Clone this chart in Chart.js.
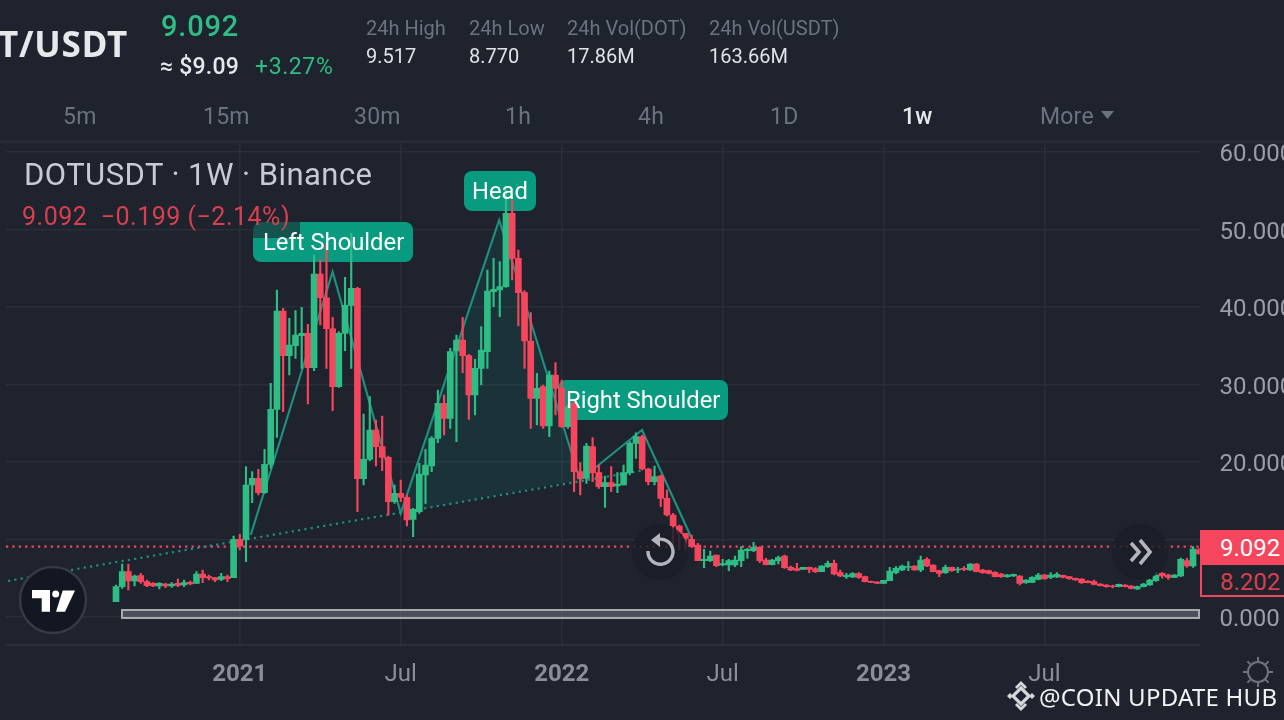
<!DOCTYPE html>
<html lang="en">

<head>
    <meta charset="UTF-8">
    <title>DOTUSDT 1W Binance</title>
    <style>
        html, body { margin: 0; padding: 0; width: 1284px; height: 720px; overflow: hidden; background: #1e232e; }
        #myChart { position: absolute; left: 0; top: 0; }
        .t { position: absolute; white-space: nowrap; line-height: 1; font-family: Roboto, sans-serif; }
        .dim { color: #6b7280; font-size: 20px; }
        .val { color: #dfe2e7; font-size: 20px; top: 46px; }
        .tf { color: #6b7280; font-size: 23px; top: 105px; letter-spacing: 0.2px; }
        .lbl { color: #fff; font-size: 23.8px; }
        .tag { position: absolute; left: 1200px; width: 84px; box-sizing: border-box; }
        .tagtxt { font-size: 24px; left: 1220px; }
    </style>
</head>

<body>
    <canvas id="myChart" width="1284" height="720"></canvas>

    <!-- header -->
    <div class="t" style="left:-2px;top:26px;font-size:35px;font-weight:700;color:#e6e8ec;letter-spacing:0.8px;font-family:'Noto Sans',sans-serif">T/USDT</div>
    <div class="t" style="left:161px;top:12px;font-size:29px;font-weight:500;color:#2ebd85;letter-spacing:0.8px">9.092</div>
    <div class="t" style="left:160px;top:55px;font-size:23px;font-weight:500;color:#e6e8ec;letter-spacing:0.2px">≈ $9.09</div>
    <div class="t" style="left:255px;top:55px;font-size:23px;color:#2ebd85;letter-spacing:0.6px">+3.27%</div>
    <div class="t dim" style="left:366px;top:18px">24h High</div>
    <div class="t dim" style="left:469px;top:18px">24h Low</div>
    <div class="t dim" style="left:567px;top:18px">24h Vol(DOT)</div>
    <div class="t dim" style="left:709px;top:18px">24h Vol(USDT)</div>
    <div class="t val" style="left:366px">9.517</div>
    <div class="t val" style="left:469px">8.770</div>
    <div class="t val" style="left:567px">17.86M</div>
    <div class="t val" style="left:709px">163.66M</div>

    <!-- timeframes -->
    <div class="t tf" style="left:63px">5m</div>
    <div class="t tf" style="left:203px">15m</div>
    <div class="t tf" style="left:354px">30m</div>
    <div class="t tf" style="left:505px">1h</div>
    <div class="t tf" style="left:638px">4h</div>
    <div class="t tf" style="left:770px">1D</div>
    <div class="t tf" style="left:902px;color:#e6e8ec;font-weight:500">1w</div>
    <div class="t tf" style="left:1040px">More</div>
    <div style="position:absolute;left:0;top:140px;width:1284px;height:3px;background:#262b36"></div>

    <!-- legend -->
    <div class="t" style="left:24px;top:159px;font-size:31px;color:#c8cbd5;letter-spacing:0.45px">DOTUSDT · 1W · Binance</div>
    <div class="t" style="left:22px;top:204px;font-size:25px;color:#d8404f;white-space:pre;letter-spacing:0.5px">9.092  −0.199 (−2.14%)</div>

    <!-- pattern labels -->
    <div class="t lbl" style="left:263px;top:231px">Left Shoulder</div>
    <div class="t lbl" style="left:472px;top:180px">Head</div>
    <div class="t lbl" style="left:566px;top:389px">Right Shoulder</div>

    <!-- scrollbar -->
    <div style="position:absolute;left:121px;top:609px;width:1079px;height:10px;box-sizing:border-box;border:2px solid #a9aaae;background:rgba(120,123,134,.5)"></div>

    <!-- price tags -->
    <div class="tag" style="top:530px;height:35px;background:#f6465d"></div>
    <div class="tag" style="top:565px;height:32px;border-left:2px solid #f6465d;border-bottom:2px solid #f6465d;background:#1e232e"></div>
    <div class="t tagtxt" style="top:536px;color:#fff">9.092</div>
    <div class="t tagtxt" style="top:570px;color:#d8404f">8.202</div>

    <svg width="1284" height="720" style="position:absolute;left:0;top:0;pointer-events:none">
        <path d="M1101 111h13l-6.5 8z" fill="#6b7280" />
        <!-- logo -->
        <circle cx="53" cy="600" r="33" fill="#131722" stroke="#363a45" stroke-width="2.5" />
        <path d="M32 590h18v21.7h-8.3v-13.4h-9.7z" fill="#fff" />
        <circle cx="55.7" cy="594" r="3.5" fill="#fff" />
        <path d="M62.7 590.5h12.3l-10 21.2h-9z" fill="#fff" />
        <!-- reset button -->
        <circle cx="660" cy="552" r="28" fill="#191d27" fill-opacity=".82" />
        <path d="M654 541a12.5 12.5 0 1 1-6 10" fill="none" stroke="#b2b5be" stroke-width="3.4" />
        <path d="M660 533v14l-9-7z" fill="#b2b5be" />
        <!-- scroll button -->
        <circle cx="1140" cy="552" r="28" fill="#191d27" fill-opacity=".82" />
        <path d="M1131 543l8 9-8 9M1140 540l10 12-10 12" fill="none" stroke="#b2b5be" stroke-width="3.6" />
        <!-- sun -->
        <g stroke="#6f7480" stroke-width="2" fill="none">
            <circle cx="1258" cy="672" r="10" />
            <path d="M1258 657v4M1258 683v4M1243 672h4M1269 672h4M1247.4 661.4l3 3M1265.6 679.6l3 3M1268.6 661.4l-3 3M1250.4 679.6l-3 3" />
        </g>
        <!-- watermark icon -->
        <g fill="none" stroke="#d5d7dc" stroke-width="3.2">
            <path d="M1021 688l8 8-8 8-8-8z" />
        </g>
        <g fill="#d5d7dc">
            <path d="M1021 681l6 6-2 2-4-4-4 4-2-2z" />
            <path d="M1021 711l6-6-2-2-4 4-4-4-2 2z" />
            <path d="M1007 696l3-3 3 3-3 3zM1029 696l3-3 3 3-3 3z" />
        </g>
    </svg>
    <div class="t" style="left:1039px;top:685px;font-size:24px;color:#f2f2f2;letter-spacing:0.25px;font-family:'Noto Sans',sans-serif">@COIN UPDATE HUB</div>

    <script src="https://cdn.jsdelivr.net/npm/chart.js"></script>
    <script>
        // weekly candles, index 0 is the first week on the chart
        const opens = [
            1.98, 3.91, 5.85, 4.65, 5.33, 4.56, 4.34, 4.00, 4.26, 4.00,
            4.34, 4.13, 4.47, 4.34, 5.55, 5.20, 5.08, 4.86, 5.20, 5.08,
            10.02, 10.02, 17.03, 17.89, 16.04, 19.70, 26.80, 39.48, 33.72, 35.01,
            36.30, 36.60, 32.17, 44.26, 41.20, 37.20, 29.72, 36.60, 40.22, 42.41,
            17.85, 20.34, 24.13, 21.98, 20.60, 14.88, 15.96, 15.44, 12.60, 13.59,
            18.32, 19.48, 23.05, 27.57, 25.63, 34.32, 35.74, 33.72, 28.65, 32.09,
            34.24, 41.98, 42.19, 42.62, 52.09, 46.28, 41.85, 35.61, 28.22, 29.72,
            24.65, 31.23, 29.51, 24.56, 27.57, 18.75, 17.89, 21.98, 18.62, 16.82,
            17.33, 16.90, 17.03, 18.62, 22.41, 23.27, 19.10, 17.46, 18.19, 15.31,
            13.16, 11.74, 10.80, 10.02, 9.29, 7.27, 7.27, 8.00, 6.71, 6.71,
            6.71, 7.27, 8.56, 8.56, 8.99, 7.35, 6.75, 7.27, 7.87, 6.41,
            6.24, 6.15, 6.41, 6.24, 5.85, 6.49, 6.92, 5.72, 5.20, 5.16,
            5.59, 5.20, 4.60, 4.52, 4.34, 4.69, 5.72, 6.06, 6.41, 6.58,
            6.06, 7.44, 6.71, 5.98, 5.72, 6.41, 6.06, 6.28, 6.06, 6.84,
            6.06, 5.98, 5.76, 5.55, 5.20, 5.29, 5.29, 4.43, 4.47, 4.86,
            5.42, 5.12, 5.16, 5.38, 5.20, 4.99, 4.90, 4.65, 4.56, 4.26,
            4.13, 4.00, 3.91, 4.13, 4.00, 3.61, 3.91, 4.13, 4.69, 5.63,
            5.42, 5.12, 5.29, 7.27, 6.58, 8.70
        ];
        const highs = [
            4.13, 6.84, 6.84, 5.42, 5.63, 4.77, 4.43, 4.43, 4.34, 4.43,
            4.90, 4.77, 4.65, 5.85, 6.06, 5.42, 5.12, 5.63, 5.42, 10.45,
            10.67, 19.40, 18.75, 19.05, 21.63, 30.15, 42.19, 39.83, 38.54, 39.53,
            39.96, 37.76, 46.71, 46.15, 48.22, 38.67, 36.82, 43.83, 49.51, 42.54,
            26.19, 28.43, 25.42, 25.94, 20.77, 17.03, 17.68, 15.74, 14.02, 19.83,
            21.63, 23.27, 29.29, 28.65, 34.67, 36.39, 38.67, 33.89, 33.25, 37.46,
            44.77, 46.28, 45.85, 55.10, 53.81, 47.35, 42.11, 39.27, 31.44, 29.94,
            31.74, 32.82, 30.58, 27.35, 27.66, 19.91, 22.41, 23.14, 19.61, 18.19,
            19.40, 18.62, 19.61, 22.62, 23.78, 23.48, 19.18, 19.48, 18.32, 16.39,
            13.38, 11.87, 10.80, 10.58, 9.51, 8.73, 8.52, 8.00, 7.44, 7.44,
            7.87, 9.08, 8.86, 9.63, 9.08, 7.57, 7.44, 7.87, 8.00, 6.58,
            6.92, 6.41, 6.45, 6.37, 6.62, 7.23, 7.35, 6.06, 5.63, 5.72,
            5.72, 5.29, 4.65, 4.56, 4.73, 6.41, 6.49, 6.71, 7.14, 6.62,
            7.87, 7.66, 6.75, 6.06, 6.71, 6.45, 6.41, 6.49, 6.88, 6.92,
            6.15, 6.06, 5.85, 5.63, 5.51, 5.55, 5.33, 4.82, 5.20, 5.63,
            5.51, 5.72, 5.72, 5.42, 5.25, 5.03, 4.95, 4.69, 4.77, 4.30,
            4.17, 4.13, 4.26, 4.17, 4.04, 4.00, 4.34, 4.86, 5.76, 5.72,
            5.55, 5.46, 7.61, 7.57, 9.08, 8.90
        ];
        const lows = [
            1.98, 3.70, 3.48, 4.00, 4.34, 3.91, 3.91, 3.61, 3.78, 3.83,
            3.91, 3.91, 4.13, 4.34, 4.43, 4.77, 4.56, 4.69, 4.56, 5.08,
            8.65, 7.14, 14.75, 15.74, 15.96, 19.18, 23.18, 26.49, 31.23, 33.38,
            32.09, 27.48, 31.78, 37.68, 32.09, 26.62, 29.63, 34.37, 32.09, 13.59,
            17.03, 20.17, 19.48, 18.88, 13.16, 14.67, 14.88, 11.74, 10.37, 13.38,
            14.67, 18.75, 22.49, 23.48, 24.34, 22.62, 31.53, 25.51, 26.06, 29.94,
            32.09, 40.04, 38.75, 42.54, 43.48, 37.55, 32.09, 24.34, 24.77, 24.34,
            23.27, 26.06, 24.47, 24.34, 16.17, 15.74, 17.25, 17.46, 16.60, 14.15,
            16.17, 16.04, 17.03, 18.32, 20.47, 18.97, 17.03, 17.03, 14.24, 13.03,
            9.08, 8.65, 8.65, 9.08, 7.27, 6.37, 7.14, 6.49, 6.58, 5.98,
            6.49, 6.49, 7.57, 8.43, 7.01, 6.71, 6.71, 6.84, 6.28, 5.98,
            5.94, 6.15, 5.72, 5.72, 5.85, 6.41, 5.42, 5.20, 4.99, 5.08,
            4.99, 4.52, 4.43, 4.30, 4.34, 4.69, 5.55, 5.98, 5.98, 6.02,
            5.85, 6.49, 5.81, 5.20, 5.63, 5.89, 5.72, 5.98, 6.02, 5.81,
            5.63, 5.55, 5.16, 5.12, 5.12, 5.20, 4.13, 4.34, 4.43, 4.77,
            4.86, 4.95, 5.08, 5.03, 4.86, 4.73, 4.34, 4.39, 4.13, 4.00,
            3.83, 3.74, 3.87, 3.87, 3.61, 3.53, 3.87, 4.09, 4.60, 5.00,
            4.86, 5.08, 5.20, 6.41, 6.41, 8.10
        ];
        const closes = [
            3.91, 5.85, 4.65, 5.29, 4.56, 4.04, 4.00, 4.34, 4.00, 4.26,
            4.09, 4.43, 4.26, 5.55, 5.08, 5.03, 4.77, 5.20, 4.95, 10.02,
            9.16, 17.03, 17.89, 16.04, 19.70, 26.80, 39.48, 33.72, 35.10, 36.39,
            36.60, 32.17, 44.26, 41.20, 37.20, 29.72, 36.60, 40.22, 42.41, 17.85,
            20.34, 24.13, 21.98, 20.60, 14.88, 15.96, 15.44, 12.52, 13.89, 18.45,
            19.61, 23.05, 27.57, 25.63, 34.24, 35.74, 33.72, 28.65, 32.09, 34.45,
            42.06, 42.28, 42.62, 52.09, 46.28, 41.85, 35.61, 28.22, 29.51, 24.65,
            31.23, 29.51, 24.56, 27.05, 18.75, 17.89, 22.06, 18.62, 16.82, 17.33,
            16.82, 17.16, 18.62, 22.41, 23.27, 19.10, 17.46, 18.11, 15.31, 13.16,
            11.74, 10.80, 10.15, 9.08, 7.27, 7.44, 7.87, 6.62, 6.88, 7.27,
            7.35, 8.65, 8.73, 8.99, 7.27, 6.75, 7.35, 7.66, 6.37, 6.06,
            6.02, 6.41, 6.15, 5.85, 6.58, 6.92, 5.55, 5.29, 5.38, 5.59,
            5.12, 4.56, 4.47, 4.34, 4.73, 5.94, 6.28, 6.58, 6.49, 6.06,
            7.35, 6.58, 5.85, 5.63, 6.41, 5.98, 6.19, 6.15, 6.84, 5.85,
            5.72, 5.63, 5.20, 5.20, 5.42, 5.51, 4.34, 4.77, 5.12, 5.42,
            4.95, 5.42, 5.51, 5.12, 4.95, 4.77, 4.43, 4.43, 4.21, 4.04,
            3.91, 3.91, 4.21, 3.91, 3.70, 3.91, 4.26, 4.77, 5.42, 5.29,
            5.12, 5.42, 7.44, 6.58, 8.77, 8.15
        ];

        // head and shoulders drawing
        const patternX = [21.76, 35.0, 46.0, 61.9, 74.96, 84.98, 93.26];
        const patternY = [10.58, 44.55, 13.38, 51.23, 17.68, 24.13, 9.72];
        const necklineX = [-17.45, 85.46];
        const necklineY = [4.65, 18.97];

        const lastPrice = 9.092;
        const priceTicks = [0, 10, 20, 30, 40, 50, 60];
        const timeTicks = [20, 46, 72, 98, 124, 150];
        const timeLabels = ['2021', 'Jul', '2022', 'Jul', '2023', 'Jul'];

        const UP = '#2ebd85', DOWN = '#f6465d', GRID = '#2a2e39', TEAL = '#1f8f7f', LABEL = '#089b7f';
        const X_MIN = -17.77, X_MAX = 175.04;

        const candleColors = opens.map((o, i) => closes[i] >= o ? UP : DOWN);

        // boxes of the pattern labels sit under the candles, the legend backdrop over them
        const overlayPlugin = {
            id: 'overlay',
            beforeDatasetsDraw(chart) {
                const { ctx, scales } = chart;
                // shaded triangle under the head
                ctx.save();
                ctx.fillStyle = 'rgba(8,153,129,.13)';
                ctx.beginPath();
                [2, 3, 4].forEach(i => ctx.lineTo(scales.x.getPixelForValue(patternX[i]), scales.y.getPixelForValue(patternY[i])));
                ctx.closePath();
                ctx.fill();
                ctx.fillStyle = LABEL;
                [[253, 222, 160, 40], [464, 171, 72, 40], [558, 380, 170, 40]].forEach(b => {
                    ctx.beginPath();
                    ctx.roundRect(b[0], b[1], b[2], b[3], 8);
                    ctx.fill();
                });
                ctx.restore();
            },
            afterDatasetsDraw(chart) {
                const { ctx } = chart;
                ctx.save();
                ctx.fillStyle = 'rgba(30,35,46,.6)';
                ctx.fillRect(253, 222, 47, 16);
                ctx.restore();
            }
        };

        new Chart(document.getElementById('myChart'), {
            type: 'bar',
            plugins: [overlayPlugin],
            data: {
                datasets: [
                    {
                        type: 'bar',
                        label: 'body',
                        order: 1,
                        grouped: false,
                        barThickness: 6,
                        borderWidth: 0,
                        backgroundColor: candleColors,
                        data: opens.map((o, i) => ({ x: i, y: [o, closes[i]] }))
                    },
                    {
                        type: 'bar',
                        label: 'wick',
                        order: 2,
                        grouped: false,
                        barThickness: 1.5,
                        borderWidth: 0,
                        backgroundColor: candleColors,
                        data: lows.map((l, i) => ({ x: i, y: [l, highs[i]] }))
                    },
                    {
                        type: 'line',
                        label: 'pattern',
                        order: 3,
                        borderColor: TEAL,
                        borderWidth: 2.2,
                        pointRadius: 0,
                        tension: 0,
                        data: patternX.map((x, i) => ({ x: x, y: patternY[i] }))
                    },
                    {
                        type: 'line',
                        label: 'neckline',
                        order: 3,
                        borderColor: TEAL,
                        borderWidth: 2.2,
                        borderDash: [2.2, 4.2],
                        pointRadius: 0,
                        data: necklineX.map((x, i) => ({ x: x, y: necklineY[i] }))
                    },
                    {
                        type: 'line',
                        label: 'last price',
                        order: 3,
                        borderColor: DOWN,
                        borderWidth: 2.2,
                        borderDash: [2.2, 4.2],
                        pointRadius: 0,
                        data: [{ x: X_MIN, y: lastPrice }, { x: X_MAX, y: lastPrice }]
                    }
                ]
            },
            options: {
                responsive: false,
                animation: false,
                layout: { padding: { left: 6, top: 140, right: 0, bottom: 0 } },
                plugins: { legend: { display: false }, tooltip: { enabled: false } },
                scales: {
                    x: {
                        type: 'linear',
                        offset: false,
                        min: X_MIN,
                        max: X_MAX,
                        afterFit: s => { s.height = 75; },
                        afterBuildTicks: s => { s.ticks = timeTicks.map(v => ({ value: v })); },
                        grid: { color: GRID, lineWidth: 1.5, drawTicks: false, offset: false },
                        border: { color: GRID, width: 2 },
                        ticks: {
                            autoSkip: false,
                            maxRotation: 0,
                            padding: 16,
                            color: '#8a8e98',
                            font: c => ({
                                family: 'Roboto',
                                size: 24,
                                weight: c.index % 2 === 0 ? 'bold' : 'normal'
                            }),
                            callback: v => timeLabels[timeTicks.indexOf(v)]
                        }
                    },
                    y: {
                        position: 'right',
                        min: -3.613,
                        max: 61.55,
                        afterFit: s => { s.width = 84.5; },
                        afterBuildTicks: s => { s.ticks = priceTicks.map(v => ({ value: v })); },
                        grid: { color: GRID, lineWidth: 1.5, drawTicks: false },
                        border: { display: false },
                        ticks: {
                            autoSkip: false,
                            padding: 20,
                            labelOffset: 3,
                            color: '#9a9ea8',
                            font: { family: 'Roboto', size: 24 },
                            callback: v => v.toFixed(3)
                        }
                    }
                }
            }
        });
    </script>
</body>

</html>
